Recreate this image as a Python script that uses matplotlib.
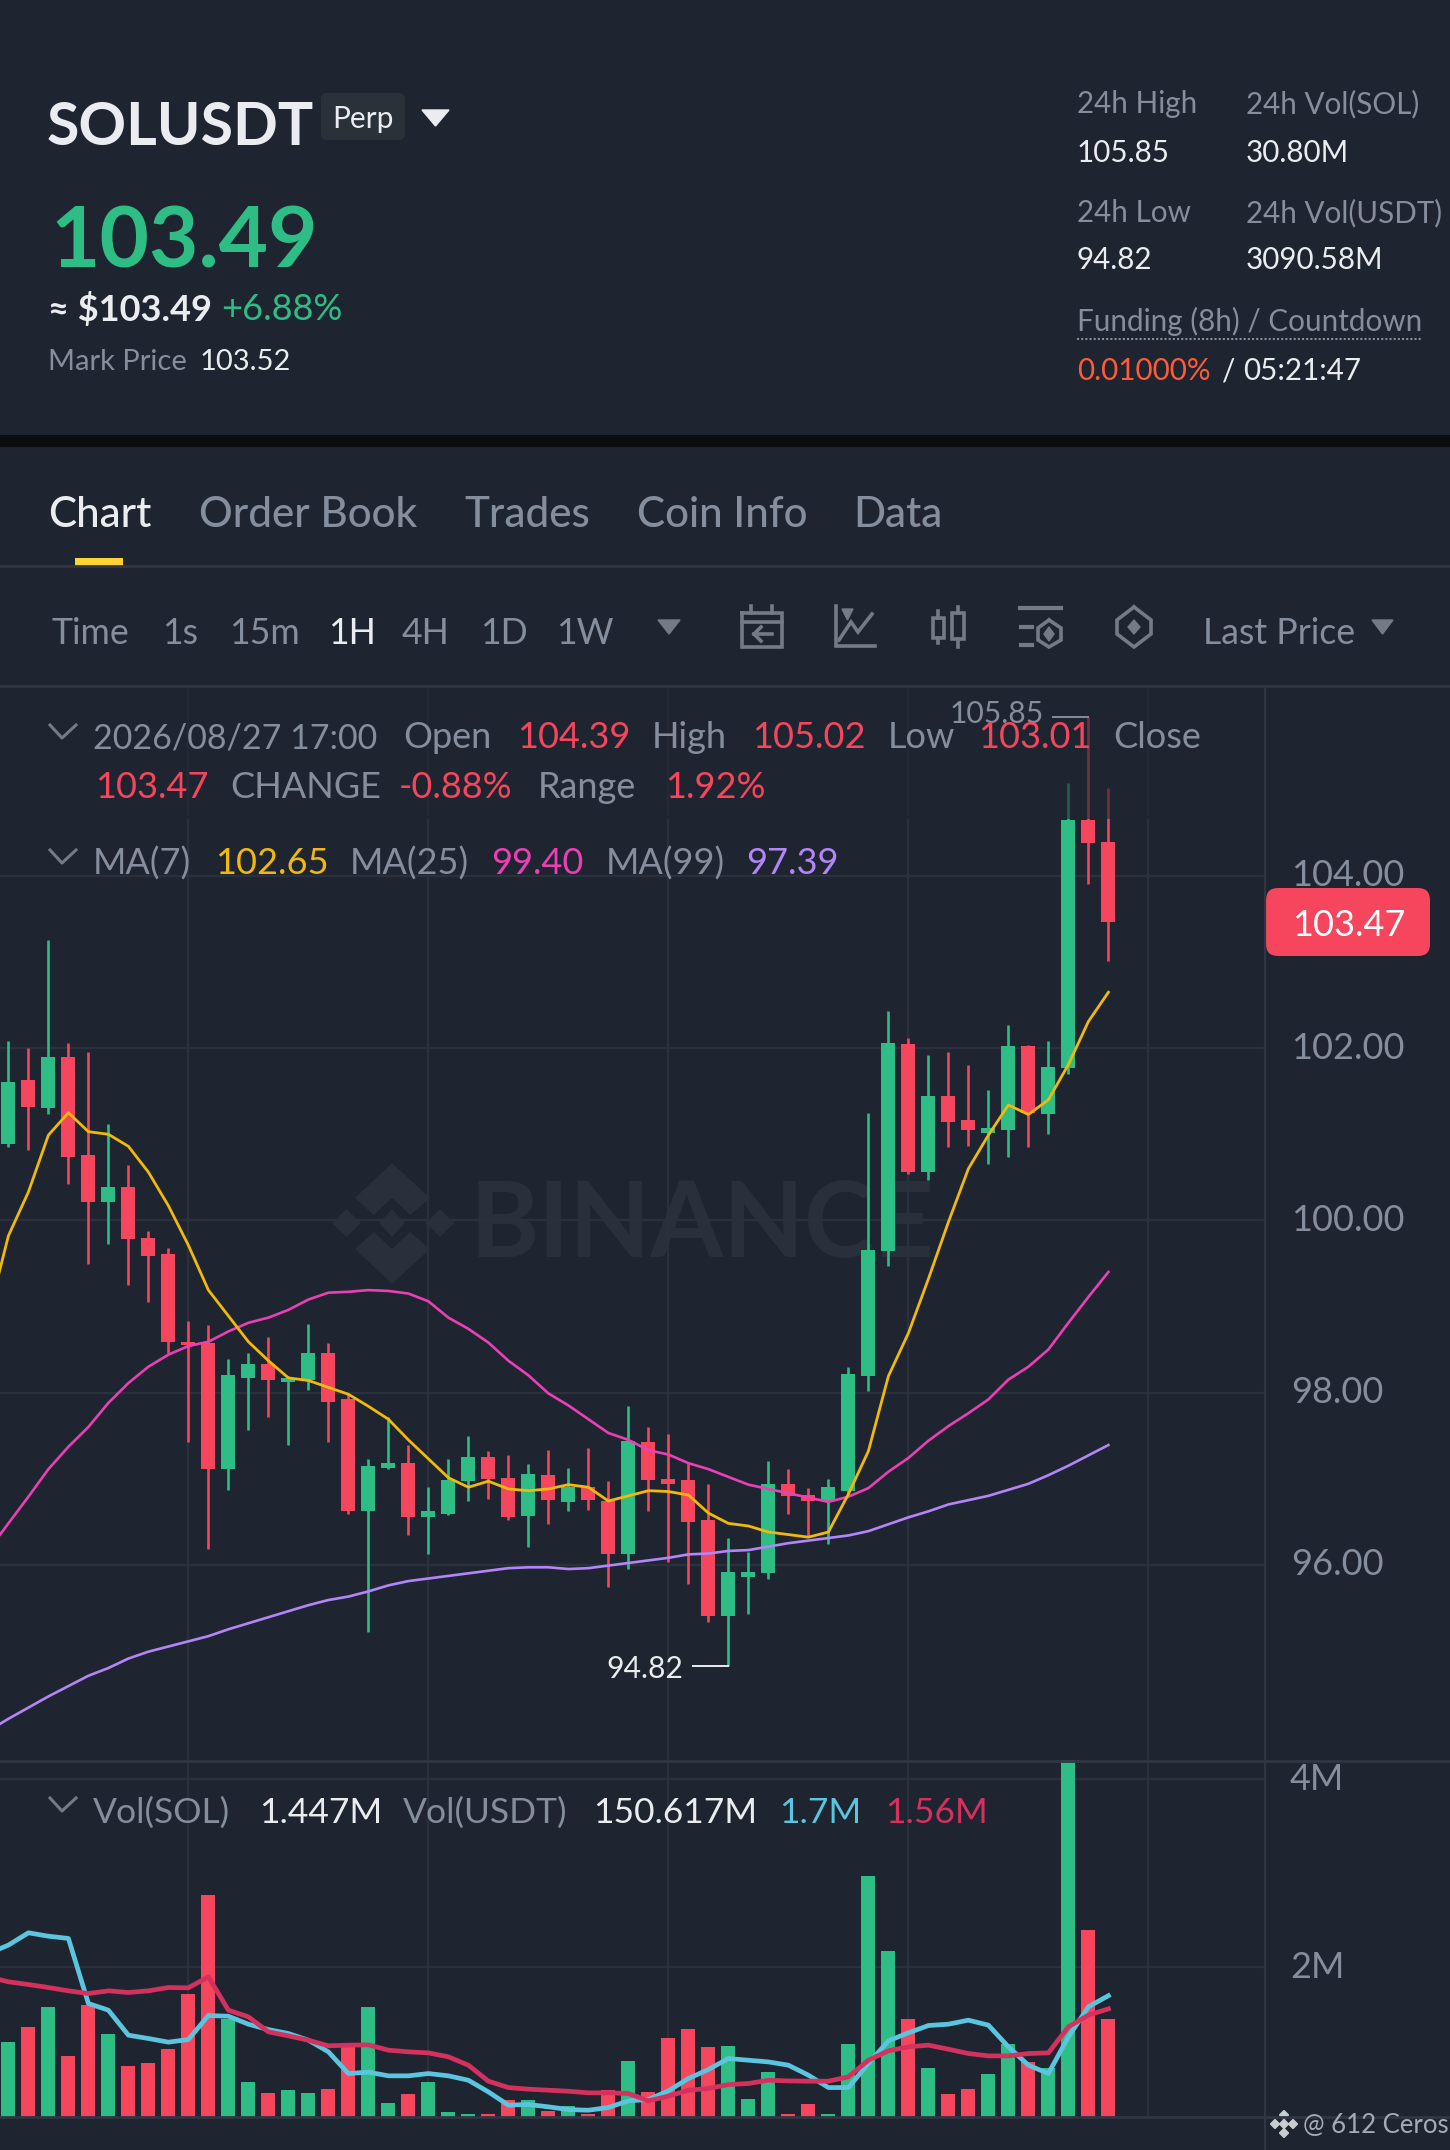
import matplotlib
matplotlib.use('Agg')
import matplotlib.pyplot as plt
from matplotlib.patches import FancyBboxPatch, Polygon, Rectangle
from matplotlib.transforms import offset_copy
import numpy as np

W, H = 1450, 2150
BG = '#1E2530'
GRID = '#2A313C'
GREEN = '#2EBD85'
RED = '#F6465D'
GRAY = '#848E9C'
WHITE = '#EAECEF'
ICON = '#737B87'

# hourly candles
opens = [100.89, 101.63, 101.31, 101.90, 100.76, 100.21, 100.39, 99.80, 99.61, 98.59,
         98.58, 97.11, 98.17, 98.33, 98.12, 98.15, 98.46, 97.93, 96.62, 97.12,
         97.18, 96.55, 96.59, 96.97, 97.25, 97.01, 96.57, 97.04, 96.73, 96.90,
         96.74, 96.12, 97.43, 96.99, 96.98, 96.52, 95.41, 95.86, 95.90, 96.94,
         96.81, 96.74, 96.86, 98.19, 99.64, 102.05, 100.56, 101.45, 101.16, 101.01,
         101.05, 102.02, 101.24, 101.77, 104.65, 104.39]
highs = [102.08, 102.00, 103.26, 102.06, 101.95, 101.12, 100.64, 99.88, 99.68, 98.83,
         98.78, 98.39, 98.46, 98.64, 98.19, 98.80, 98.58, 97.99, 97.23, 97.72,
         97.39, 96.90, 97.23, 97.50, 97.32, 97.28, 97.17, 97.33, 97.12, 97.35,
         96.97, 97.84, 97.60, 97.52, 97.19, 96.94, 96.31, 96.15, 97.20, 97.11,
         96.89, 96.99, 98.30, 101.25, 102.43, 102.12, 101.92, 101.95, 101.81, 101.52,
         102.27, 102.04, 102.08, 105.08, 105.85, 105.02]
lows = [100.85, 100.82, 101.24, 100.42, 99.49, 99.72, 99.25, 99.05, 98.46, 97.43,
        96.18, 96.87, 97.57, 97.72, 97.39, 98.03, 97.43, 96.59, 95.22, 97.11,
        96.34, 96.13, 96.58, 96.74, 96.76, 96.52, 96.20, 96.47, 96.62, 96.64,
        95.74, 95.95, 96.62, 96.03, 95.78, 95.34, 94.82, 95.43, 95.83, 96.59,
        96.32, 96.24, 96.81, 98.02, 99.47, 100.54, 100.47, 100.85, 100.86, 100.66,
        100.74, 100.85, 101.00, 101.70, 103.91, 103.01]
closes = [101.61, 101.32, 101.90, 100.74, 100.21, 100.39, 99.78, 99.59, 98.59, 98.55,
          97.11, 98.20, 98.33, 98.15, 98.17, 98.46, 97.89, 96.62, 97.15, 97.18,
          96.55, 96.62, 96.98, 97.25, 97.00, 96.56, 97.05, 96.75, 96.90, 96.75,
          96.12, 97.44, 96.98, 96.94, 96.50, 95.41, 95.92, 95.92, 96.94, 96.80,
          96.74, 96.90, 98.21, 99.66, 102.06, 100.56, 101.45, 101.14, 101.05, 101.07,
          102.03, 101.25, 101.78, 104.65, 104.38, 103.47]

# moving averages start one candle earlier, off the left edge
ma7 = [98.90, 99.82, 100.33, 100.99, 101.25, 101.03, 101.00, 100.86, 100.56, 100.17, 99.71,
       99.19, 98.89, 98.59, 98.37, 98.17, 98.14, 98.06, 97.98, 97.84, 97.69,
       97.45, 97.23, 97.01, 96.90, 96.97, 96.88, 96.86, 96.88, 96.93, 96.90,
       96.74, 96.80, 96.86, 96.85, 96.81, 96.60, 96.48, 96.45, 96.38, 96.35,
       96.32, 96.38, 96.82, 97.32, 98.19, 98.69, 99.32, 99.98, 100.60, 100.99,
       101.34, 101.23, 101.40, 101.81, 102.31, 102.65]
ma25 = [96.17, 96.48, 96.79, 97.11, 97.37, 97.60, 97.88, 98.11, 98.30, 98.44, 98.54,
        98.59, 98.71, 98.81, 98.87, 98.96, 99.08, 99.16, 99.17, 99.19, 99.18,
        99.15, 99.06, 98.87, 98.74, 98.58, 98.37, 98.20, 97.99, 97.85, 97.69,
        97.53, 97.45, 97.33, 97.28, 97.18, 97.11, 97.02, 96.93, 96.88, 96.83,
        96.78, 96.73, 96.79, 96.89, 97.08, 97.24, 97.44, 97.61, 97.76, 97.92,
        98.15, 98.30, 98.50, 98.81, 99.11, 99.40]
ma99 = [94.07, 94.21, 94.34, 94.47, 94.59, 94.71, 94.80, 94.91, 94.99, 95.05, 95.11,
        95.17, 95.25, 95.32, 95.39, 95.46, 95.53, 95.59, 95.63, 95.69, 95.76,
        95.81, 95.84, 95.87, 95.90, 95.93, 95.96, 95.97, 95.97, 95.95, 95.96,
        95.99, 96.02, 96.05, 96.08, 96.12, 96.13, 96.16, 96.17, 96.21, 96.25,
        96.28, 96.31, 96.34, 96.39, 96.47, 96.55, 96.62, 96.70, 96.75, 96.80,
        96.87, 96.94, 97.04, 97.15, 97.27, 97.39]

# volume in millions
volumes = [1.206, 1.372, 1.575, 1.064, 1.599, 1.298, 0.957, 0.979, 1.138, 1.716,
           2.769, 1.457, 0.787, 0.660, 0.702, 0.667, 0.713, 1.174, 1.585, 0.557,
           0.656, 0.787, 0.468, 0.443, 0.443, 0.592, 0.592, 0.475, 0.532, 0.443,
           0.702, 1.004, 0.674, 1.248, 1.348, 1.156, 1.170, 0.599, 0.887, 0.447,
           0.546, 0.447, 1.184, 2.975, 2.174, 1.447, 0.936, 0.653, 0.713, 0.865,
           1.184, 0.996, 0.926, 4.21, 2.404, 1.447]
vol_fast = [2.149, 2.238, 2.369, 2.333, 2.309, 1.617, 1.546, 1.280, 1.245, 1.206, 1.234,
            1.489, 1.482, 1.397, 1.340, 1.298, 1.227, 1.103, 0.872, 0.887, 0.848,
            0.848, 0.872, 0.848, 0.801, 0.677, 0.536, 0.543, 0.518, 0.489, 0.482,
            0.511, 0.582, 0.596, 0.688, 0.819, 0.915, 1.032, 1.014, 0.996, 0.961,
            0.855, 0.723, 0.723, 0.979, 1.220, 1.305, 1.383, 1.397, 1.440, 1.387,
            1.156, 0.961, 0.872, 1.262, 1.582, 1.70]
vol_slow = [1.90, 1.848, 1.819, 1.787, 1.752, 1.723, 1.752, 1.734, 1.752, 1.787, 1.784,
            1.901, 1.546, 1.475, 1.316, 1.273, 1.227, 1.167, 1.174, 1.177, 1.121,
            1.103, 1.092, 1.050, 0.961, 0.791, 0.723, 0.706, 0.695, 0.684, 0.667,
            0.667, 0.660, 0.582, 0.631, 0.695, 0.713, 0.755, 0.766, 0.801, 0.794,
            0.791, 0.791, 0.837, 1.014, 1.114, 1.156, 1.174, 1.131, 1.085, 1.060,
            1.060, 1.085, 1.092, 1.369, 1.493, 1.56]

price_ticks = [96, 98, 100, 102, 104]
vol_ticks = [2, 4]
vol_tick_labels = ['2M', '4M']
hour_ticks = [9, 21, 33, 45, 57]

plt.rcParams['font.family'] = ['Lato', 'DejaVu Sans']

fig = plt.figure(figsize=(W / 100, H / 100), dpi=100, facecolor=BG)


def pixel_axes(zorder):
    a = fig.add_axes([0, 0, 1, 1], zorder=zorder)
    a.set_xlim(0, W)
    a.set_ylim(H, 0)
    a.axis('off')
    return a


def chart_axes(left, right, top, bottom, zorder):
    a = fig.add_axes([left / W, 1 - bottom / H, (right - left) / W, (bottom - top) / H], zorder=zorder)
    a.patch.set_alpha(0)
    for s in a.spines.values():
        s.set_visible(False)
    return a


def raise_tick_labels(a, px):
    # the labels sit a little above their gridlines
    for t in a.get_yticklabels():
        t.set_transform(offset_copy(t.get_transform(), fig=fig, y=px, units='dots'))


back = pixel_axes(0)
front = pixel_axes(5)


def label(x, y, s, color=GRAY, size=26, weight='normal', ha='left'):
    front.text(x, y + 3, s, color=color, fontsize=size, fontweight=weight, ha=ha, va='center')


# BINANCE watermark sits behind the candles
MARK = '#2A303B'
back.text(470, 1227, 'BINANCE', color=MARK, fontsize=75.5, fontweight='bold', ha='left', va='center')
for cx, rx in [(392, 12), (346.5, 13.5), (440, 13.5)]:
    back.add_patch(Polygon([(cx - rx, 1223), (cx, 1210), (cx + rx, 1223), (cx, 1236)], color=MARK))
back.add_patch(Polygon([(392, 1164), (429, 1198), (410, 1214), (392, 1197), (374, 1214), (356, 1198)], color=MARK))
back.add_patch(Polygon([(392, 1283), (429, 1249), (410, 1233), (392, 1250), (374, 1233), (356, 1249)], color=MARK))

# price panel, 20 px per candle
ax = chart_axes(0, 1265, 686, 1761, 1)
ax.set_xlim(-0.42, 62.83)
ax.set_ylim(93.72, 106.207)
x = np.arange(len(opens))
ma_x = np.arange(-1, len(opens))
colors = [GREEN if c >= o else RED for o, c in zip(opens, closes)]
bottoms = np.minimum(opens, closes)
heights = np.abs(np.array(closes) - np.array(opens))
ax.vlines(x, lows, highs, colors=colors, linewidth=1.9, zorder=3)
ax.bar(x, heights, bottom=bottoms, width=0.7, color=colors, zorder=3)
ax.plot(ma_x, ma99, color='#B385F8', lw=1.9, zorder=4)
ax.plot(ma_x, ma25, color='#EB40B5', lw=1.9, zorder=4)
ax.plot(ma_x, ma7, color='#F0B90B', lw=2.0, zorder=4)
ax.set_yticks(price_ticks)
ax.set_yticklabels([f'{p:.2f}' for p in price_ticks])
ax.yaxis.tick_right()
ax.tick_params(axis='y', length=0, pad=19, labelsize=26, labelcolor=GRAY)
raise_tick_labels(ax, 3)
ax.set_xticks(hour_ticks)
ax.tick_params(axis='x', length=0, labelbottom=False)
ax.grid(True, color=GRID, lw=1.6, zorder=0)
ax.set_axisbelow(True)
# legend strip dims whatever runs under it
ax.axhspan(104.66, 106.207, color=BG, alpha=0.62, zorder=6, lw=0)
ax.plot([36 - 1.75, 36], [94.82, 94.82], color=WHITE, lw=1.4, zorder=8)
ax.annotate('94.82', (36 - 2.25, 94.82), xytext=(0, -2), textcoords='offset points', color=WHITE,
            fontsize=21.6, ha='right', va='center', zorder=8)
ax.plot([54 - 1.75, 54], [105.85, 105.85], color=GRAY, lw=1.4, zorder=8)
ax.annotate('105.85', (54 - 2.25, 105.85), xytext=(0, 2), textcoords='offset points', color=GRAY,
            fontsize=21.6, ha='right', va='center', zorder=8)

# volume panel: its floor is not zero
vax = chart_axes(0, 1265, 1755, 2117, 1)
vax.set_xlim(-0.42, 62.83)
vax.set_ylim(0.41, 4.26)
vax.bar(x, volumes, bottom=0, width=0.7, color=colors, zorder=3)
vax.plot(ma_x, vol_fast, color='#5BC4DE', lw=3.4, zorder=4)
vax.plot(ma_x, vol_slow, color='#D4315F', lw=3.4, zorder=5)
vax.set_yticks(vol_ticks)
vax.set_yticklabels(vol_tick_labels)
vax.yaxis.tick_right()
vax.tick_params(axis='y', length=0, pad=18, labelsize=26, labelcolor=GRAY)
raise_tick_labels(vax, 3)
vax.set_xticks(hour_ticks)
vax.tick_params(axis='x', length=0, labelbottom=False)
vax.grid(True, color=GRID, lw=1.6, zorder=0)
vax.set_axisbelow(True)

# bands and rules
front.add_patch(Rectangle((0, 435), W, 12, color='#0B0E11', lw=0))
for yy in (565.5, 685.5, 1761, 2117):
    front.plot([0, W], [yy, yy], color='#303743', lw=2.0)
front.plot([1265, 1265], [686, H], color='#303743', lw=1.6)
front.add_patch(Rectangle((75, 558), 48, 9, color='#FCD535', lw=0))

# header
label(47, 125, 'SOLUSDT', WHITE, 42.5, 'bold')
front.add_patch(FancyBboxPatch((325, 97), 76, 39, boxstyle='round,pad=4,rounding_size=6', color='#2B3139', lw=0))
label(363, 116, 'Perp', WHITE, 21.5, ha='center')
front.add_patch(Polygon([(422, 110), (449, 110), (435.5, 126)], color=WHITE))
label(50, 240, '103.49', GREEN, 61.5, 'bold')
label(48, 306, '≈ $103.49', WHITE, 26, 'bold')
label(221, 306, '+6.88%', GREEN, 26)
label(48, 359, 'Mark Price', GRAY, 21)
label(200, 359, '103.52', WHITE, 21)
label(1077, 101, '24h High', GRAY, 21.3)
label(1246, 101, '24h Vol(SOL)', GRAY, 21.3)
label(1077, 150, '105.85', WHITE, 21.3)
label(1246, 150, '30.80M', WHITE, 21.3)
label(1077, 210, '24h Low', GRAY, 21.3)
label(1246, 210, '24h Vol(USDT)', GRAY, 21.3)
label(1077, 257, '94.82', WHITE, 21.3)
label(1246, 257, '3090.58M', WHITE, 21.3)
label(1077, 318, 'Funding (8h) / Countdown', GRAY, 21.3)
front.plot([1077, 1421], [339, 339], color=GRAY, lw=1.5, ls=(0, (1, 1)))
label(1077, 368, '0.01000%', '#FF5B38', 21.3)
label(1222, 368, '/', WHITE, 21.3)
label(1243, 368, '05:21:47', WHITE, 21.3)

# tabs
for tx, s, c in [(48, 'Chart', WHITE), (199, 'Order Book', GRAY), (464, 'Trades', GRAY),
                 (637, 'Coin Info', GRAY), (853, 'Data', GRAY)]:
    label(tx, 512, s, c, 30.3, 'medium')

# interval row
for tx, s, c in [(52, 'Time', GRAY), (162, '1s', GRAY), (229, '15m', GRAY), (328, '1H', WHITE),
                 (402, '4H', GRAY), (480, '1D', GRAY), (556, '1W', GRAY), (1203, 'Last Price', GRAY)]:
    label(tx, 630, s, c, 25.7)
front.add_patch(Polygon([(658, 620), (680, 620), (669, 634)], color=ICON))
front.add_patch(Polygon([(1372, 620), (1393, 620), (1382.5, 634)], color=ICON))


def outline(pts, lw=2.6):
    xs, ys = zip(*pts)
    front.plot(xs, ys, color=ICON, lw=lw, solid_joinstyle='miter')


# calendar
outline([(742, 613), (782, 613), (782, 647), (742, 647), (742, 613)])
outline([(742, 622), (782, 622)])
outline([(751, 606), (751, 613)])
outline([(772, 606), (772, 613)])
outline([(772, 634), (754, 634)])
outline([(761, 627), (754, 634), (761, 641)])
# line chart
outline([(836, 606), (836, 646), (875, 646)])
outline([(839, 640), (851, 622), (858, 632), (872, 614)])
front.add_patch(Polygon([(842, 609), (853, 609), (847.5, 620)], color=ICON))
# candles
front.add_patch(Rectangle((933, 618), 11, 20, fill=False, ec=ICON, lw=2.6))
front.add_patch(Rectangle((952, 613), 12, 26, fill=False, ec=ICON, lw=2.6))
outline([(938.5, 611), (938.5, 618)])
outline([(938.5, 638), (938.5, 643)])
outline([(958, 607), (958, 613)])
outline([(958, 639), (958, 647)])
# settings list
outline([(1020, 608), (1061, 608)], 3)
outline([(1021, 627), (1032, 627)], 3)
outline([(1021, 645), (1032, 645)], 3)
outline([(1049, 620), (1061, 628), (1061, 640), (1049, 647), (1038, 640), (1038, 628), (1049, 620)])
front.add_patch(Polygon([(1049, 627), (1054, 634), (1049, 641), (1044, 634)], color=ICON))
# depth hexagon
outline([(1134, 607), (1151, 620), (1151, 634), (1134, 647), (1117, 634), (1117, 620), (1134, 607)])
front.add_patch(Polygon([(1134, 620), (1140, 627), (1134, 634), (1128, 627)], color=ICON))

# legends over the chart
for cy in (732, 857, 1805):
    front.plot([50, 62, 76], [cy - 7, cy + 6, cy - 7], color=ICON, lw=2.2)
label(93, 735, '2026/08/27 17:00', GRAY, 24.5)
for tx, s, c in [(403, 'Open', GRAY), (517, '104.39', RED),
                 (652, 'High', GRAY), (752, '105.02', RED), (888, 'Low', GRAY),
                 (978, '103.01', RED), (1113, 'Close', GRAY)]:
    label(tx, 735, s, c)
for tx, s, c in [(95, '103.47', RED), (230, 'CHANGE', GRAY), (399, '-0.88%', RED),
                 (538, 'Range', GRAY), (665, '1.92%', RED)]:
    label(tx, 784, s, c)
for tx, s, c in [(93, 'MA(7)', GRAY), (215, '102.65', '#F0B90B'), (350, 'MA(25)', GRAY),
                 (491, '99.40', '#EB40B5'), (606, 'MA(99)', GRAY), (746, '97.39', '#B385F8')]:
    label(tx, 861, s, c)
for tx, s, c in [(93, 'Vol(SOL)', GRAY), (259, '1.447M', WHITE), (403, 'Vol(USDT)', GRAY),
                 (593, '150.617M', WHITE), (779, '1.7M', '#5BC4DE'), (885, '1.56M', '#D4315F')]:
    label(tx, 1810, s, c, 25.5)

# last price tag
front.add_patch(FancyBboxPatch((1276, 898), 144, 48, boxstyle='round,pad=10,rounding_size=12', color=RED, lw=0))
label(1349, 922, '103.47', '#FFFFFF', 26, ha='center')

# corner credit
label(1303, 2122, '@ 612 Ceros', '#A6ABB3', 18.5)
for cx, cy in [(1284, 2115), (1284, 2133), (1275, 2124), (1293, 2124), (1284, 2124)]:
    front.add_patch(Polygon([(cx - 4.5, cy), (cx, cy - 4.5), (cx + 4.5, cy), (cx, cy + 4.5)], color='#C9CDD2'))

fig.savefig('out.png', dpi=100, facecolor=BG)
